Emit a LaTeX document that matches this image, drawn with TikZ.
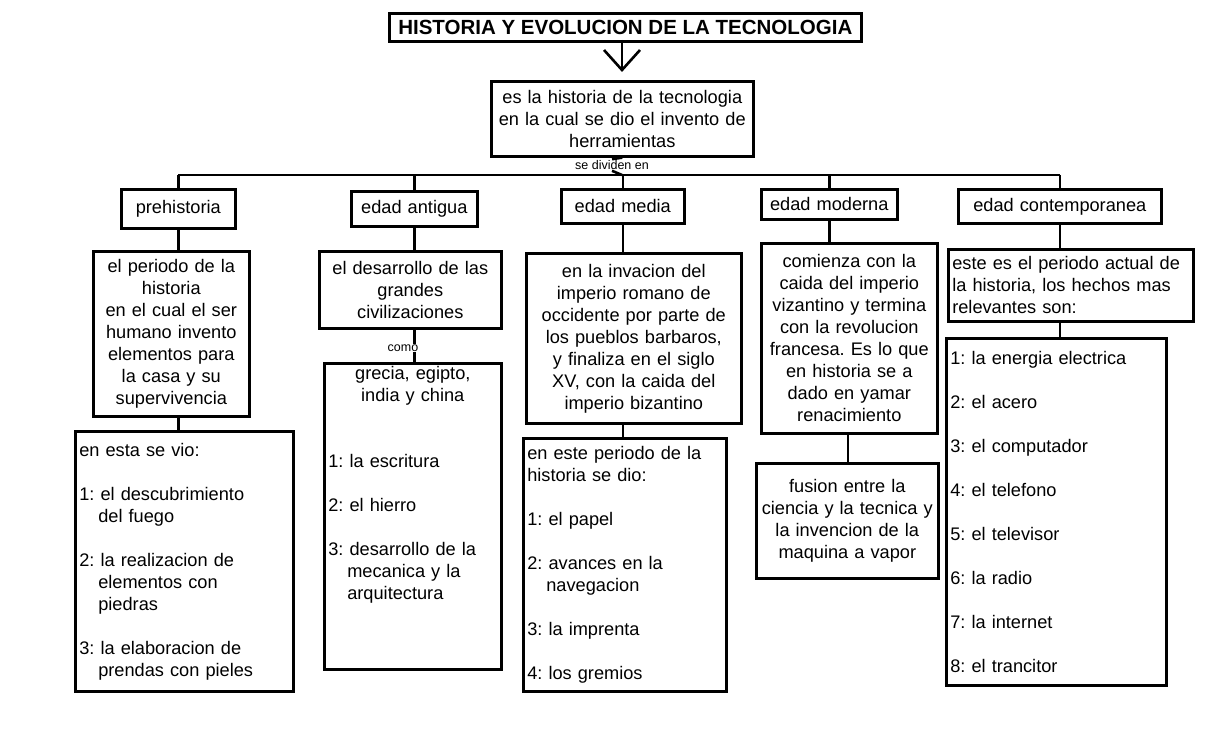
\documentclass[tikz,border=0pt]{standalone}
\usepackage{fontspec}
\setmainfont{Liberation Sans}
\begin{document}
\frenchspacing
\begin{tikzpicture}[x=1pt,y=-1pt,
  box/.style={draw,line width=2.6pt,inner sep=3pt,font=\fontsize{18.2}{22}\selectfont\frenchspacing},
  ln/.style={line width=2.6pt},
  small/.style={font=\fontsize{12.5}{14}\selectfont,inner sep=0pt}]
\useasboundingbox (0,0) rectangle (1216,730);
\newcommand{\bx}[7]{\node[box,anchor=north west,minimum width=#3,minimum height=#4,text width=#3-8,align=#5] (#1) at (#2) {#7};}
\node[box,anchor=north west,minimum width=472,minimum height=28,inner sep=2pt,font=\bfseries\fontsize{20.5}{22}\selectfont] (t) at (388,12) {HISTORIA Y EVOLUCION DE LA TECNOLOGIA};
\coordinate (ah) at (622,70);
\draw[ln] (622,40) -- (ah);
\draw[ln,line join=miter] (604,50) -- (ah) -- (640,50);
\bx{b1}{490,80}{262}{75}{center}{}{es la historia de la tecnologia\\en la cual se dio el invento de\\herramientas}
\node[small,fill=white,inner sep=1pt] (sd) at (612,165) {se dividen en};
\coordinate (bus) at (622,175);
\draw[ln] (b1.south) -- (sd.north);
\draw[ln] (sd.south) -- (bus);
\bx{h1}{120,188}{114}{39}{center}{}{prehistoria}
\bx{h2}{350,190}{126}{35}{center}{}{edad antigua}
\bx{h3}{560,188}{123}{34}{center}{}{edad media}
\bx{h4}{760,188}{136}{30}{center}{}{edad moderna}
\bx{h5}{957,188}{203}{34}{center}{}{edad contemporanea}
\draw[ln] (h1.north |- bus) -- (h5.north |- bus);
\foreach \h in {h1,h2,h3,h4,h5} \draw[ln] (\h.north |- bus) -- (\h.north);
\bx{p1}{92,250}{156}{165}{center}{}{el periodo de la\\historia\\en el cual el ser\\humano invento\\elementos para\\la casa y su\\supervivencia}
\bx{p2}{74,430}{218}{260}{left}{}{en esta se vio:\\[22pt]1: el descubrimiento\\\hspace*{19pt}del fuego\\[22pt]2: la realizacion de\\\hspace*{19pt}elementos con\\\hspace*{19pt}piedras\\[22pt]3: la elaboracion de\\\hspace*{19pt}prendas con pieles}
\bx{a1}{318,250}{182}{77}{center}{}{el desarrollo de las\\grandes\\civilizaciones}
\node[small] (como) at (403,348) {como};
\bx{a2}{323,362}{177}{306}{left}{}{\centering grecia, egipto,\\india y china\\[44pt]\raggedright 1: la escritura\\[22pt]2: el hierro\\[22pt]3: desarrollo de la\\\hspace*{19pt}mecanica y la\\\hspace*{19pt}arquitectura\\\rule{0pt}{62pt}}
\bx{m1}{525,252}{215}{170}{center}{}{en la invacion del\\imperio romano de\\occidente por parte de\\los pueblos barbaros,\\y finaliza en el siglo\\XV, con la caida del\\imperio bizantino}
\bx{m2}{522,437}{203}{253}{left}{}{en este periodo de la\\historia se dio:\\[22pt]1: el papel\\[22pt]2: avances en la\\\hspace*{19pt}navegacion\\[22pt]3: la imprenta\\[22pt]4: los gremios}
\bx{d1}{760,242}{176}{190}{center}{}{comienza con la\\caida del imperio\\vizantino y termina\\con la revolucion\\francesa. Es lo que\\en historia se a\\dado en yamar\\renacimiento}
\bx{d2}{755,462}{182}{115}{center}{}{fusion entre la\\ciencia y la tecnica y\\la invencion de la\\maquina a vapor}
\bx{c1}{947,248}{245}{72}{left}{}{este es el periodo actual de\\la historia, los hechos mas\\relevantes son:}
\bx{c2}{945,337}{220}{347}{left}{}{1: la energia electrica\\[22pt]2: el acero\\[22pt]3: el computador\\[22pt]4: el telefono\\[22pt]5: el televisor\\[22pt]6: la radio\\[22pt]7: la internet\\[22pt]8: el trancitor}
\draw[ln] (h1.south) -- (h1.south |- p1.north);
\draw[ln] (h1.south |- p1.south) -- (h1.south |- p2.north);
\draw[ln] (h2.south) -- (h2.south |- a1.north);
\draw[ln] (h2.south |- a1.south) -- (h2.south |- como.north);
\draw[ln] (h2.south |- como.south) -- (h2.south |- a2.north);
\draw[ln] (h3.south) -- (h3.south |- m1.north);
\draw[ln] (h3.south |- m1.south) -- (h3.south |- m2.north);
\draw[ln] (h4.south) -- (h4.south |- d1.north);
\coordinate (dc) at (848,0);
\draw[ln] (dc |- d1.south) -- (dc |- d2.north);
\draw[ln] (h5.south) -- (h5.south |- c1.north);
\draw[ln] (h5.south |- c1.south) -- (h5.south |- c2.north);
\end{tikzpicture}
\end{document}
